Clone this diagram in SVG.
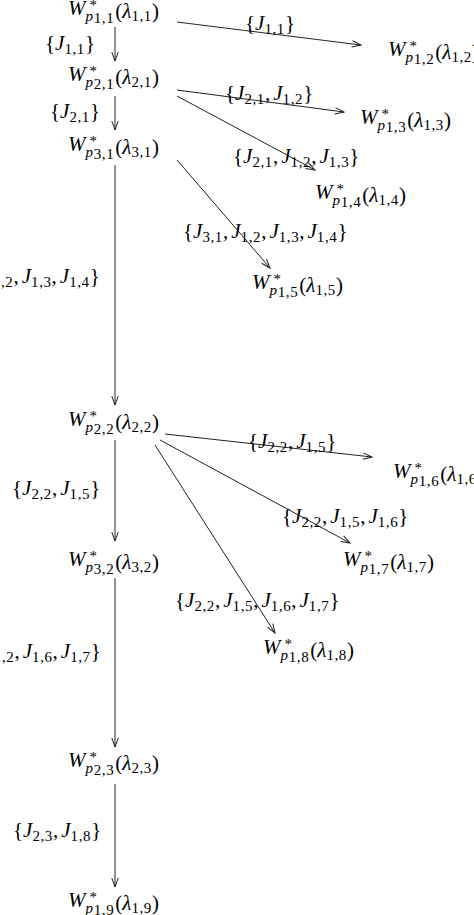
<svg xmlns="http://www.w3.org/2000/svg" width="474" height="915" viewBox="0 0 474 915">
<style>
.t{font-family:"Liberation Serif","Times New Roman",serif;font-size:21px;fill:#000}
.i{font-style:italic}
.s{font-size:15px;letter-spacing:0.6px}
.c line{stroke:#222;stroke-width:1;fill:none}
</style>
<defs>
<marker id="ah" viewBox="-10 -5 12 10" refX="0" refY="0" markerWidth="12" markerHeight="10" markerUnits="userSpaceOnUse" orient="auto">
<path d="M-9,-3.2 L0,0 L-9,3.2" fill="none" stroke="#222" stroke-width="1"/>
</marker>
</defs>
<rect width="474" height="915" fill="#fff"/>
<g class="c" id="connectors">
<line x1="115" y1="27" x2="115" y2="61" marker-end="url(#ah)"/>
<line x1="115" y1="96" x2="115" y2="130" marker-end="url(#ah)"/>
<line x1="115" y1="165" x2="115" y2="405" marker-end="url(#ah)"/>
<line x1="115" y1="440" x2="115" y2="541" marker-end="url(#ah)"/>
<line x1="115" y1="578" x2="115" y2="747" marker-end="url(#ah)"/>
<line x1="115" y1="784" x2="115" y2="887" marker-end="url(#ah)"/>
<line x1="177" y1="22" x2="361" y2="45" marker-end="url(#ah)"/>
<line x1="177" y1="90" x2="344" y2="112" marker-end="url(#ah)"/>
<line x1="177" y1="96" x2="315" y2="170" marker-end="url(#ah)"/>
<line x1="177" y1="160" x2="270" y2="268" marker-end="url(#ah)"/>
<line x1="165" y1="434" x2="372" y2="457" marker-end="url(#ah)"/>
<line x1="160" y1="440" x2="350" y2="543" marker-end="url(#ah)"/>
<line x1="155" y1="445" x2="275" y2="633" marker-end="url(#ah)"/>
</g>
<g id="labels">
<text class="t" x="45" y="50">{<tspan class="i">J</tspan><tspan class="s" dy="4">1,1</tspan><tspan dy="-4">}</tspan></text>
<text class="t" x="50" y="118">{<tspan class="i">J</tspan><tspan class="s" dy="4">2,1</tspan><tspan dy="-4">}</tspan></text>
<text class="t" x="1" y="283"><tspan class="s" dy="4">,2</tspan><tspan dy="-4">,</tspan><tspan class="i" dx="3">J</tspan><tspan class="s" dy="4">1,3</tspan><tspan dy="-4">,</tspan><tspan class="i" dx="3">J</tspan><tspan class="s" dy="4">1,4</tspan><tspan dy="-4">}</tspan></text>
<text class="t" x="12" y="495">{<tspan class="i">J</tspan><tspan class="s" dy="4">2,2</tspan><tspan dy="-4">,</tspan><tspan class="i" dx="3">J</tspan><tspan class="s" dy="4">1,5</tspan><tspan dy="-4">}</tspan></text>
<text class="t" x="2" y="658"><tspan class="s" dy="4">,2</tspan><tspan dy="-4">,</tspan><tspan class="i" dx="3">J</tspan><tspan class="s" dy="4">1,6</tspan><tspan dy="-4">,</tspan><tspan class="i" dx="3">J</tspan><tspan class="s" dy="4">1,7</tspan><tspan dy="-4">}</tspan></text>
<text class="t" x="13" y="837">{<tspan class="i">J</tspan><tspan class="s" dy="4">2,3</tspan><tspan dy="-4">,</tspan><tspan class="i" dx="3">J</tspan><tspan class="s" dy="4">1,8</tspan><tspan dy="-4">}</tspan></text>
<text class="t" x="245" y="30">{<tspan class="i">J</tspan><tspan class="s" dy="4">1,1</tspan><tspan dy="-4">}</tspan></text>
<text class="t" x="225" y="100">{<tspan class="i">J</tspan><tspan class="s" dy="4">2,1</tspan><tspan dy="-4">,</tspan><tspan class="i" dx="3">J</tspan><tspan class="s" dy="4">1,2</tspan><tspan dy="-4">}</tspan></text>
<text class="t" x="233" y="163">{<tspan class="i">J</tspan><tspan class="s" dy="4">2,1</tspan><tspan dy="-4">,</tspan><tspan class="i" dx="3">J</tspan><tspan class="s" dy="4">1,2</tspan><tspan dy="-4">,</tspan><tspan class="i" dx="3">J</tspan><tspan class="s" dy="4">1,3</tspan><tspan dy="-4">}</tspan></text>
<text class="t" x="183" y="238">{<tspan class="i">J</tspan><tspan class="s" dy="4">3,1</tspan><tspan dy="-4">,</tspan><tspan class="i" dx="3">J</tspan><tspan class="s" dy="4">1,2</tspan><tspan dy="-4">,</tspan><tspan class="i" dx="3">J</tspan><tspan class="s" dy="4">1,3</tspan><tspan dy="-4">,</tspan><tspan class="i" dx="3">J</tspan><tspan class="s" dy="4">1,4</tspan><tspan dy="-4">}</tspan></text>
<text class="t" x="248" y="448">{<tspan class="i">J</tspan><tspan class="s" dy="4">2,2</tspan><tspan dy="-4">,</tspan><tspan class="i" dx="3">J</tspan><tspan class="s" dy="4">1,5</tspan><tspan dy="-4">}</tspan></text>
<text class="t" x="282" y="523">{<tspan class="i">J</tspan><tspan class="s" dy="4">2,2</tspan><tspan dy="-4">,</tspan><tspan class="i" dx="3">J</tspan><tspan class="s" dy="4">1,5</tspan><tspan dy="-4">,</tspan><tspan class="i" dx="3">J</tspan><tspan class="s" dy="4">1,6</tspan><tspan dy="-4">}</tspan></text>
<text class="t" x="175" y="607">{<tspan class="i">J</tspan><tspan class="s" dy="4">2,2</tspan><tspan dy="-4">,</tspan><tspan class="i" dx="3">J</tspan><tspan class="s" dy="4">1,5</tspan><tspan dy="-4">,</tspan><tspan class="i" dx="3">J</tspan><tspan class="s" dy="4">1,6</tspan><tspan dy="-4">,</tspan><tspan class="i" dx="3">J</tspan><tspan class="s" dy="4">1,7</tspan><tspan dy="-4">}</tspan></text>
</g>
<g id="n11"><text class="t" x="68" y="18"><tspan class="i" dy="-3">W</tspan><tspan class="s" dx="4" dy="-5">*</tspan><tspan class="s i" dx="-12" dy="11">p</tspan><tspan class="s" dy="2">1,1</tspan><tspan dx="1" dy="-5">(</tspan><tspan class="i">λ</tspan><tspan class="s" dy="3">1,1</tspan><tspan dy="-3">)</tspan></text></g>
<g id="n21"><text class="t" x="68" y="84"><tspan class="i" dy="-3">W</tspan><tspan class="s" dx="4" dy="-5">*</tspan><tspan class="s i" dx="-12" dy="11">p</tspan><tspan class="s" dy="2">2,1</tspan><tspan dx="1" dy="-5">(</tspan><tspan class="i">λ</tspan><tspan class="s" dy="3">2,1</tspan><tspan dy="-3">)</tspan></text></g>
<g id="n31"><text class="t" x="68" y="154"><tspan class="i" dy="-3">W</tspan><tspan class="s" dx="4" dy="-5">*</tspan><tspan class="s i" dx="-12" dy="11">p</tspan><tspan class="s" dy="2">3,1</tspan><tspan dx="1" dy="-5">(</tspan><tspan class="i">λ</tspan><tspan class="s" dy="3">3,1</tspan><tspan dy="-3">)</tspan></text></g>
<g id="n22"><text class="t" x="68" y="429"><tspan class="i" dy="-3">W</tspan><tspan class="s" dx="4" dy="-5">*</tspan><tspan class="s i" dx="-12" dy="11">p</tspan><tspan class="s" dy="2">2,2</tspan><tspan dx="1" dy="-5">(</tspan><tspan class="i">λ</tspan><tspan class="s" dy="3">2,2</tspan><tspan dy="-3">)</tspan></text></g>
<g id="n32"><text class="t" x="68" y="569"><tspan class="i" dy="-3">W</tspan><tspan class="s" dx="4" dy="-5">*</tspan><tspan class="s i" dx="-12" dy="11">p</tspan><tspan class="s" dy="2">3,2</tspan><tspan dx="1" dy="-5">(</tspan><tspan class="i">λ</tspan><tspan class="s" dy="3">3,2</tspan><tspan dy="-3">)</tspan></text></g>
<g id="n23"><text class="t" x="68" y="770"><tspan class="i" dy="-3">W</tspan><tspan class="s" dx="4" dy="-5">*</tspan><tspan class="s i" dx="-12" dy="11">p</tspan><tspan class="s" dy="2">2,3</tspan><tspan dx="1" dy="-5">(</tspan><tspan class="i">λ</tspan><tspan class="s" dy="3">2,3</tspan><tspan dy="-3">)</tspan></text></g>
<g id="n19"><text class="t" x="68" y="910"><tspan class="i" dy="-3">W</tspan><tspan class="s" dx="4" dy="-5">*</tspan><tspan class="s i" dx="-12" dy="11">p</tspan><tspan class="s" dy="2">1,9</tspan><tspan dx="1" dy="-5">(</tspan><tspan class="i">λ</tspan><tspan class="s" dy="3">1,9</tspan><tspan dy="-3">)</tspan></text></g>
<g id="n12"><text class="t" x="388" y="59"><tspan class="i" dy="-3">W</tspan><tspan class="s" dx="4" dy="-5">*</tspan><tspan class="s i" dx="-12" dy="11">p</tspan><tspan class="s" dy="2">1,2</tspan><tspan dx="1" dy="-5">(</tspan><tspan class="i">λ</tspan><tspan class="s" dy="3">1,2</tspan><tspan dy="-3">)</tspan></text></g>
<g id="n13"><text class="t" x="360" y="127"><tspan class="i" dy="-3">W</tspan><tspan class="s" dx="4" dy="-5">*</tspan><tspan class="s i" dx="-12" dy="11">p</tspan><tspan class="s" dy="2">1,3</tspan><tspan dx="1" dy="-5">(</tspan><tspan class="i">λ</tspan><tspan class="s" dy="3">1,3</tspan><tspan dy="-3">)</tspan></text></g>
<g id="n14"><text class="t" x="315" y="202"><tspan class="i" dy="-3">W</tspan><tspan class="s" dx="4" dy="-5">*</tspan><tspan class="s i" dx="-12" dy="11">p</tspan><tspan class="s" dy="2">1,4</tspan><tspan dx="1" dy="-5">(</tspan><tspan class="i">λ</tspan><tspan class="s" dy="3">1,4</tspan><tspan dy="-3">)</tspan></text></g>
<g id="n15"><text class="t" x="252" y="292"><tspan class="i" dy="-3">W</tspan><tspan class="s" dx="4" dy="-5">*</tspan><tspan class="s i" dx="-12" dy="11">p</tspan><tspan class="s" dy="2">1,5</tspan><tspan dx="1" dy="-5">(</tspan><tspan class="i">λ</tspan><tspan class="s" dy="3">1,5</tspan><tspan dy="-3">)</tspan></text></g>
<g id="n16"><text class="t" x="393" y="481"><tspan class="i" dy="-3">W</tspan><tspan class="s" dx="4" dy="-5">*</tspan><tspan class="s i" dx="-12" dy="11">p</tspan><tspan class="s" dy="2">1,6</tspan><tspan dx="1" dy="-5">(</tspan><tspan class="i">λ</tspan><tspan class="s" dy="3">1,6</tspan><tspan dy="-3">)</tspan></text></g>
<g id="n17"><text class="t" x="343" y="569"><tspan class="i" dy="-3">W</tspan><tspan class="s" dx="4" dy="-5">*</tspan><tspan class="s i" dx="-12" dy="11">p</tspan><tspan class="s" dy="2">1,7</tspan><tspan dx="1" dy="-5">(</tspan><tspan class="i">λ</tspan><tspan class="s" dy="3">1,7</tspan><tspan dy="-3">)</tspan></text></g>
<g id="n18"><text class="t" x="263" y="657"><tspan class="i" dy="-3">W</tspan><tspan class="s" dx="4" dy="-5">*</tspan><tspan class="s i" dx="-12" dy="11">p</tspan><tspan class="s" dy="2">1,8</tspan><tspan dx="1" dy="-5">(</tspan><tspan class="i">λ</tspan><tspan class="s" dy="3">1,8</tspan><tspan dy="-3">)</tspan></text></g>
</svg>
